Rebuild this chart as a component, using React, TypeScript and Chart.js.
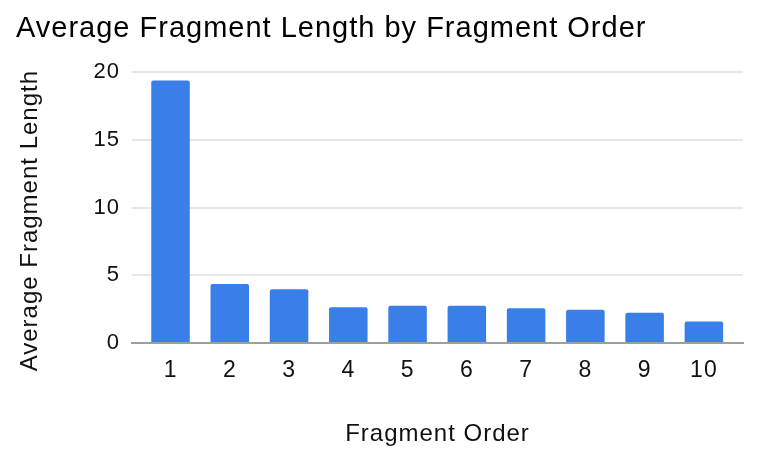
import React, { useEffect, useRef } from "react";
import { Chart, registerables } from "chart.js";

Chart.register(...registerables);

const categories = ["1", "2", "3", "4", "5", "6", "7", "8", "9", "10"];
const values = [19.4, 4.36, 3.97, 2.64, 2.76, 2.76, 2.56, 2.46, 2.24, 1.58];
const yTickValues = [0, 5, 10, 15, 20];
const chartTitle = "Average Fragment Length by Fragment Order";
const xTitle = "Fragment Order";
const yTitle = "Average Fragment Length";

const FONT = "'Liberation Sans', Arial, Helvetica, sans-serif";

const spacingPlugin = {
  id: "spacing",
  beforeUpdate(chart: any) {
    (chart.ctx as any).letterSpacing = "1px";
  },
  beforeDraw(chart: any) {
    (chart.ctx as any).letterSpacing = "1px";
  },
};

const yTitlePlugin = {
  id: "yTitleText",
  afterDraw(chart: any) {
    const { ctx, chartArea } = chart;
    const yScale = chart.scales.y;
    ctx.save();
    (ctx as any).letterSpacing = "1px";
    ctx.font = `24px ${FONT}`;
    ctx.fillStyle = "#111111";
    ctx.textAlign = "center";
    ctx.textBaseline = "middle";
    ctx.translate(yScale.left + 14.4, (chartArea.top + chartArea.bottom) / 2 + 13);
    ctx.rotate(-Math.PI / 2);
    ctx.fillText(yTitle, 0, 0);
    ctx.restore();
  },
};

export default function App() {
  const canvasRef = useRef<HTMLCanvasElement | null>(null);

  useEffect(() => {
    const canvas = canvasRef.current;
    if (!canvas) return;
    const chart = new Chart(canvas, {
      type: "bar",
      data: {
        datasets: [
          {
            label: yTitle,
            data: values.map((v, i) => ({ x: i + 1, y: v })),
            backgroundColor: "#3a7fe8",
            borderWidth: 0,
            borderRadius: 2,
            barPercentage: 0.65,
            categoryPercentage: 1,
          },
        ],
      },
      plugins: [spacingPlugin, yTitlePlugin],
      options: {
        animation: false,
        responsive: false,
        layout: { padding: { left: 16, right: 22, top: 0, bottom: 0 } },
        plugins: {
          legend: { display: false },
          tooltip: { enabled: false },
          title: {
            display: true,
            text: chartTitle,
            align: "start",
            color: "#000000",
            font: { family: FONT, size: 29, weight: "normal" },
            padding: { top: 11.5, bottom: 26 },
          },
        },
        scales: {
          x: {
            type: "linear",
            offset: false,
            min: 0.35,
            max: 10.66,
            afterBuildTicks: (scale: any) => {
              scale.ticks = categories.map((_, i) => ({ value: i + 1 }));
            },
            afterFit: (scale: any) => {
              scale.height = 114;
            },
            grid: { display: false, drawTicks: false },
            border: { display: true, color: "#9e9e9e", width: 2 },
            ticks: {
              padding: 14,
              color: "#111111",
              font: { family: FONT, size: 23 },
              callback: (v: any) => categories[Math.round(Number(v)) - 1] ?? "",
              maxRotation: 0,
              autoSkip: false,
            },
            title: {
              display: true,
              text: xTitle,
              color: "#111111",
              font: { family: FONT, size: 24 },
              padding: { top: 0, bottom: 8 },
            },
          },
          y: {
            min: 0,
            max: 20,
            afterBuildTicks: (scale: any) => {
              scale.ticks = yTickValues.map((v) => ({ value: v }));
            },
            afterFit: (scale: any) => {
              scale.width = 116;
            },
            grid: {
              drawTicks: false,
              color: (ctx: any) => (ctx.tick && ctx.tick.value === 0 ? "rgba(0,0,0,0)" : "#e6e6e6"),
              lineWidth: 2,
            },
            border: { display: false },
            ticks: {
              padding: 12,
              color: "#111111",
              font: { family: FONT, size: 22 },
            },
            title: { display: false },
          },
        },
      },
    });
    return () => chart.destroy();
  }, []);

  return (
    <div style={{ position: "absolute", left: 0, top: 0, width: 765, height: 457, background: "#ffffff" }}>
      <canvas ref={canvasRef} width={765} height={457} style={{ display: "block" }} />
    </div>
  );
}
